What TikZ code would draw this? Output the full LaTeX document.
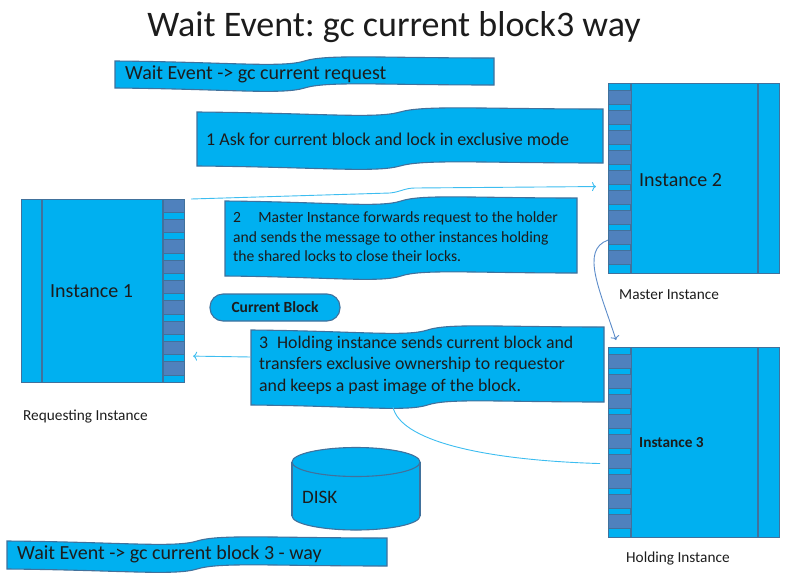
\documentclass[tikz,border=0pt]{standalone}
\usepackage{fontspec}
\setmainfont{Carlito}
\usetikzlibrary{arrows.meta}
\frenchspacing

\definecolor{slidecyan}{HTML}{00B0F0}
\definecolor{slideedge}{HTML}{41719C}
\definecolor{blockblue}{HTML}{4F81BD}
\definecolor{flowblue}{HTML}{3DBDF0}
\definecolor{linkblue}{HTML}{5B8BC9}
\definecolor{inktext}{HTML}{1C1C1C}

% wavy banner: left, top, right, bottom (in px)
\newcommand{\wavebanner}[4]{%
  \pgfmathsetmacro\bnL{#1}\pgfmathsetmacro\bnT{#2}%
  \pgfmathsetmacro\bnR{#3}\pgfmathsetmacro\bnB{#4}%
  \pgfmathsetmacro\bnW{#3-#1}\pgfmathsetmacro\bnM{(#1+#3)/2}%
  \draw[banner] (\bnL,\bnT)
    .. controls ({\bnL+0.3*\bnW},{\bnT+1}) and ({\bnM-0.06*\bnW},{\bnT+7}) .. (\bnM,\bnT)
    .. controls ({\bnM+0.06*\bnW},{\bnT-7}) and ({\bnR-0.3*\bnW},{\bnT-3}) .. (\bnR,{\bnT-3})
    -- (\bnR,{\bnB-3})
    .. controls ({\bnR-0.3*\bnW},{\bnB-3}) and ({\bnM+0.06*\bnW},{\bnB-7}) .. (\bnM,\bnB)
    .. controls ({\bnM-0.06*\bnW},{\bnB+7}) and ({\bnL+0.3*\bnW},{\bnB+1}) .. (\bnL,\bnB)
    -- cycle;}

\tikzset{
  banner/.style={fill=slidecyan, draw=slideedge, line width=1.1pt},
  instbox/.style={rectangle, fill=slidecyan, draw=slideedge, line width=1.1pt,
    inner sep=0pt, anchor=north west},
  divider/.style={draw=slideedge, line width=1.1pt},
  cell/.style={fill=blockblue, draw=slideedge, line width=0.9pt},
  bantext/.style={anchor=west, inner sep=0pt, text=inktext, align=left},
  caption/.style={anchor=west, inner sep=0pt, text=inktext, font=\fontsize{15.3}{18}\selectfont},
  pill/.style={rectangle, rounded corners=13pt, fill=slidecyan, draw=slideedge,
    line width=1.1pt, minimum width=130pt, minimum height=27pt,
    font=\bfseries\fontsize{15.5}{18}\selectfont, text=inktext},
  flow/.style={draw=flowblue, line width=0.9pt, -{To[length=4pt,width=9pt]}},
  link/.style={draw=linkblue, line width=0.9pt, -{To[length=4pt,width=9pt]}},
}

\begin{document}
\begin{tikzpicture}[x=1pt, y=-1pt]
    \useasboundingbox (0,0) rectangle (795,576);

    % 1) Title
    \node[text=inktext, font=\fontsize{36}{42}\selectfont] (title) at (394,27) {Wait Event: gc current block3 way};

    % 2) Banners with their texts
    \wavebanner{115}{61}{494}{88}
    \node[bantext, font=\fontsize{20}{24}\selectfont] (evt req) at (125,74) {Wait Event -> gc current request};

    \wavebanner{197}{112}{603}{166}
    \node[bantext, font=\fontsize{18}{22}\selectfont] (step1) at (206,139) {1 Ask for current block and lock in exclusive mode};

    \wavebanner{225}{201}{577}{276}
    \node[bantext, font=\fontsize{15.6}{19.5}\selectfont] (step2) at (233,237) {2\hspace{1.1em}Master Instance forwards request to the holder\\
      and sends the message to other instances holding\\
      the shared locks to close their locks.};

    \wavebanner{251}{330}{604}{405}
    \coordinate (step3 left) at (251,357);
    \coordinate (step3 bottom) at (393,407);
    \node[bantext, font=\fontsize{17.8}{21.5}\selectfont] (step3) at (259,365) {3\hspace{0.5em}Holding instance sends current block and\\
      transfers exclusive ownership to requestor\\
      and keeps a past image of the block.};

    \wavebanner{7}{541}{387}{569}
    \node[bantext, font=\fontsize{20}{24}\selectfont] (evt block) at (17,554) {Wait Event -> gc current block 3 - way};

    % 3) Instance boxes
    \node[instbox, minimum width=163pt, minimum height=183pt] (inst1) at (21,199) {};
    \node[instbox, minimum width=171pt, minimum height=190pt] (inst2) at (608,83) {};
    \node[instbox, minimum width=171pt, minimum height=190pt] (inst3) at (608,347) {};

    % 4) Dividers and buffer cells
    \draw[divider] (42,199) -- (42,382);
    \draw[divider] (163,199) -- (163,382);
    \foreach \k in {0,...,8} {
      \draw[cell] (163,{199+20.33*\k}) rectangle (184,{212.5+20.33*\k});
    }
    \draw[divider] (631,83) -- (631,273);
    \draw[divider] (758,83) -- (758,273);
    \foreach \k in {0,...,8} {
      \draw[cell] (608,{90.5+20*\k}) rectangle (631,{104.5+20*\k});
    }
    \draw[divider] (631,347) -- (631,537);
    \draw[divider] (758,347) -- (758,537);
    \foreach \k in {0,...,8} {
      \draw[cell] (608,{354+20*\k}) rectangle (631,{368+20*\k});
    }

    % 5) Instance names and captions
    \node[bantext, font=\fontsize{20}{24}\selectfont] (inst1 name) at (50,291) {Instance 1};
    \node[bantext, font=\fontsize{20}{24}\selectfont] (inst2 name) at (639,180) {Instance 2};
    \node[bantext, font=\bfseries\fontsize{15.3}{18}\selectfont] (inst3 name) at (639,443) {Instance 3};
    \node[caption] (req cap) at (23,417) {Requesting Instance};
    \node[caption] (master cap) at (619,295) {Master Instance};
    \node[caption] (hold cap) at (626,558) {Holding Instance};

    % 6) Current block and disk
    \node[pill] (cur block) at (275,307.5) {Current Block};
    \fill[slidecyan, draw=slideedge, line width=1.1pt] (356,516) ellipse [x radius=64, y radius=14];
    \fill[slidecyan] (292,462) rectangle (420,516);
    \draw[divider] (292,462) -- (292,516) (420,462) -- (420,516);
    \fill[slidecyan, draw=slideedge, line width=1.1pt] (356,462) ellipse [x radius=64, y radius=14.5];
    \node[bantext, font=\fontsize{19}{22}\selectfont] (disk) at (302,497) {DISK};

    % 7) Messages
    \draw[flow] ([xshift=6pt]inst1.north east) -- (390,193)
      .. controls (400,192) and (405,188) .. (415,188) -- ([xshift=-12pt,yshift=-8pt]inst2.west);
    \draw[link] ([yshift=34pt]inst2.south west) .. controls (580,250) and (600,290) .. ([xshift=8pt,yshift=7pt]inst3.north west);
    \draw[flow] (step3 left) -- ([xshift=8pt,yshift=27pt]inst1.south east);
    \draw[draw=flowblue, line width=0.9pt] (step3 bottom) .. controls (400,440) and (480,460) .. ([xshift=-8pt,yshift=-21pt]inst3.west);
\end{tikzpicture}
\end{document}
